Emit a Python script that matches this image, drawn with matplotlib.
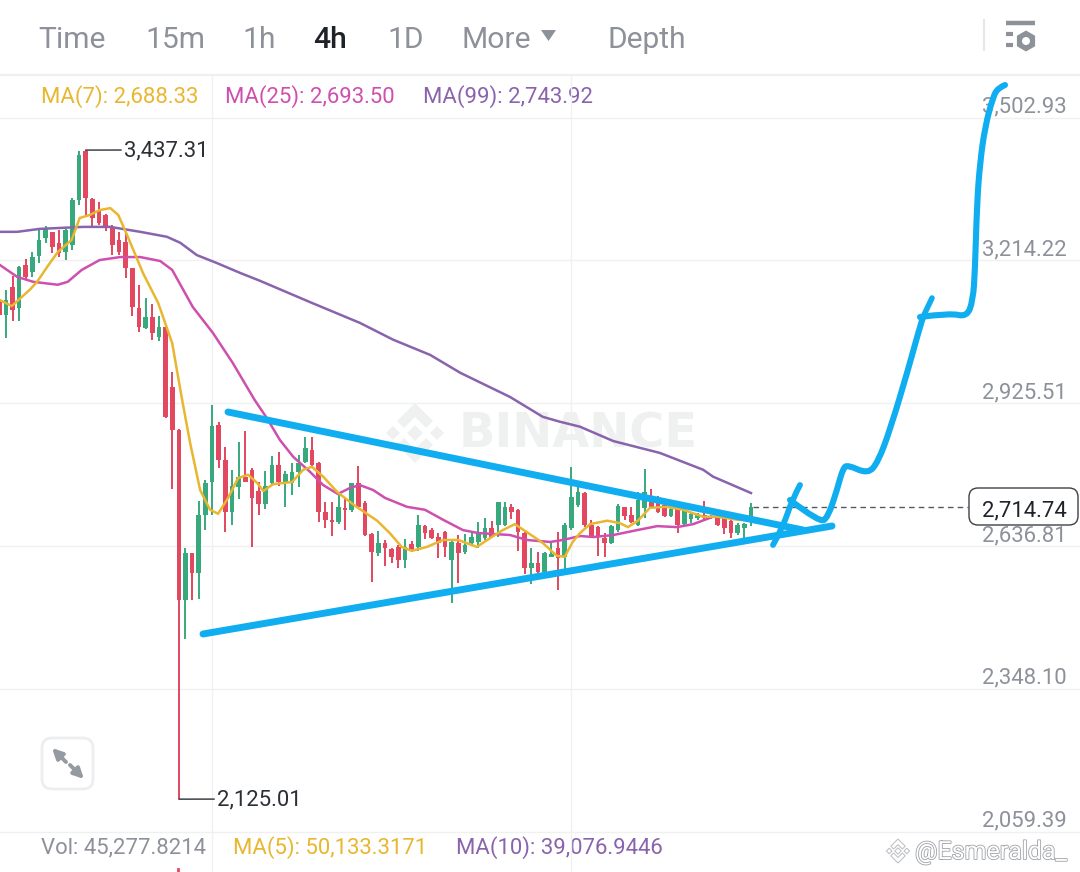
import matplotlib
matplotlib.use("Agg")
import matplotlib.pyplot as plt
import matplotlib.patheffects as pe
from matplotlib.path import Path
from matplotlib.patches import FancyBboxPatch, Polygon, Circle, RegularPolygon, PathPatch

plt.rcParams['font.family'] = ['Roboto', 'DejaVu Sans']

# ---------- data ----------
high = [3155,3155,3183,3203,3217,3231,3280,3284,3272,3276,
        3278,3341,3436,3437.31,3341,3333,3308,3286,3272,3270,
        3199,3165,3138,3126,3102,3084,2989,2874,2633,2623,
        2728,2770,2922,2888,2837,2791,2847,2870,2795,2766,
        2789,2819,2827,2789,2805,2821,2857,2857,2807,2726,
        2726,2740,2734,2764,2799,2728,2663,2667,2649,2633,
        2639,2651,2647,2700,2679,2673,2663,2667,2649,2659,
        2661,2663,2686,2694,2688,2726,2726,2722,2712,2665,
        2633,2625,2625,2643,2665,2683,2797,2756,2746,2690,
        2677,2663,2679,2722,2716,2716,2746,2793,2752,2738,
        2724,2714,2716,2712,2706,2704,2728,2700,2696,2696,
        2690,2683,2683,2724]
low = [3094,3058,3092,3092,3175,3181,3209,3250,3230,3221,
       3215,3235,3326,3302,3280,3286,3274,3225,3225,3179,
       3102,3070,3076,3054,3052,2896,2752,2125.01,2449,2528,
       2530,2669,2700,2795,2665,2679,2732,2766,2635,2700,
       2712,2760,2758,2716,2740,2756,2805,2797,2686,2673,
       2657,2681,2669,2706,2714,2657,2564,2617,2597,2603,
       2592,2592,2625,2627,2651,2651,2613,2615,2522,2562,
       2621,2639,2633,2649,2655,2655,2677,2692,2627,2580,
       2560,2582,2582,2615,2548,2590,2669,2716,2675,2653,
       2617,2615,2641,2665,2690,2683,2677,2694,2712,2704,
       2696,2696,2663,2679,2683,2690,2690,2692,2677,2661,
       2653,2659,2653,2677]
open_ = [3135,3104,3161,3118,3205,3191,3223,3260,3272,3250,
         3232,3246,3337,3436,3339,3316,3306,3282,3256,3252,
         3199,3118,3078,3100,3060,3080,2958,2871,2528,2623,
         2582,2700,2766,2882,2811,2706,2756,2776,2791,2748,
         2722,2764,2801,2766,2764,2787,2807,2831,2805,2706,
         2690,2686,2714,2710,2764,2724,2661,2623,2643,2631,
         2635,2609,2641,2635,2677,2669,2655,2665,2609,2643,
         2625,2643,2645,2653,2673,2679,2679,2716,2710,2663,
         2592,2603,2584,2615,2633,2615,2673,2720,2744,2679,
         2675,2653,2643,2669,2716,2700,2679,2714,2730,2724,
         2720,2698,2712,2681,2692,2694,2700,2694,2694,2694,
         2688,2663,2673,2686]
close = [3104,3135,3114,3201,3181,3221,3256,3280,3242,3230,
         3276,3337,3428,3341,3300,3290,3282,3246,3232,3199,
         3120,3080,3100,3068,3080,2898,2871,2528,2623,2582,
         2700,2764,2880,2811,2706,2758,2776,2766,2734,2722,
         2758,2801,2766,2783,2787,2805,2835,2801,2706,2690,
         2686,2716,2710,2764,2716,2659,2625,2643,2633,2615,
         2609,2635,2631,2679,2663,2653,2643,2635,2645,2623,
         2639,2655,2665,2673,2655,2726,2716,2706,2665,2592,
         2603,2584,2623,2621,2613,2679,2736,2746,2679,2655,
         2655,2643,2677,2718,2698,2686,2730,2746,2716,2706,
         2698,2712,2679,2708,2702,2702,2694,2698,2679,2673,
         2663,2679,2681,2714.74]

ma99_i = [0.1,2.7,6.1,12.6,16.7,21.2,25.2,27.2,29.7,32.7,36.2,39.2,46.7,54.2,59.2,
          64.8,69.3,76.8,81.7,84.3,87.3,92.3,99.3,105.8,107.3,113]
ma99_v = [3272,3272,3278,3282,3282,3272,3262,3250,3225,3209,3189,3173,3130,3088,3054,
          3023,2987,2938,2898,2888,2878,2849,2825,2791,2777,2743.92]
ma25_i = [0.1,2.7,5.1,8.8,10.3,12.4,15.1,18.2,21.2,24.2,26,29.1,32.1,35.1,38.4,40.2,
          42.2,44.2,46.7,48.7,50.9,52.7,54.2,56.2,58,61.3,64,66.7,69.7,72,76.8,79.3,
          82.8,84.7,87.3,89.3,92.3,95.9,98.9,101.9,104.3,107.3,113]
ma25_v = [3205,3181,3171,3165,3171,3195,3215,3221,3221,3213,3195,3120,3068,3007,2932,2896,
          2851,2817,2787,2760,2742,2754,2760,2750,2734,2716,2710,2690,2669,2663,2659,2649,
          2645,2649,2657,2655,2659,2669,2677,2675,2681,2696,2693.5]
ma7_i = [0.1,1.9,4.6,5.7,7.2,8.8,10.9,12.1,13.6,15.1,16.7,17.9,19.4,21.6,23.9,26,27.5,
         28.7,30.2,31.7,32.9,34.4,35.9,37.4,38.8,39.7,41.2,44,45.7,47,48.7,50.8,53.5,
         56.8,58.7,60.5,62,64.3,66.7,69,71.8,73.8,75.7,77.5,79.3,81.7,83.8,85,86.2,87.3,
         88.8,91.4,93.3,94.5,96,97.8,100.4,102.8,105.8,107.9,110.9,113]
ma7_v = [3134,3122,3155,3171,3201,3231,3256,3300,3306,3316,3320,3306,3260,3189,3128,3047,2932,
         2845,2750,2710,2702,2734,2774,2781,2764,2748,2762,2766,2791,2797,2777,2746,2718,
         2688,2663,2635,2627,2635,2649,2649,2635,2653,2669,2681,2665,2643,2617,2615,2645,2663,
         2681,2688,2683,2675,2688,2714,2716,2710,2696,2696,2690,2688.33]

price_ticks = [3502.93, 3214.22, 2925.51, 2636.81, 2348.10, 2059.39]
price_labels = ['3,502.93', '3,214.22', '2,925.51', '2,636.81', '2,348.10', '2,059.39']
time_grid = [32, 86]
last_price = 2714.74
tabs = ['Time', '15m', '1h', '4h', '1D', 'More', 'Depth']
ma_header = ['MA(7): 2,688.33', 'MA(25): 2,693.50', 'MA(99): 2,743.92']
vol_footer = ['Vol: 45,277.8214', 'MA(5): 50,133.3171', 'MA(10): 39,076.9446']

# hand-drawn pen strokes over the chart (screen position of the sketch)
pen_upper = ([228, 803], [412, 530])
pen_lower = ([203, 832], [634, 526])
pen_tick = ([773, 783, 792, 800], [545, 527, 500, 485])
pen_path = ([790, 820, 828, 837, 843, 848, 868, 878, 890, 908, 917, 923],
            [500, 523, 517, 490, 468, 465, 474, 462, 430, 370, 337, 317])
pen_stub = ([923, 932], [317, 298])
pen_rise = ([920, 950, 967, 973, 975, 977, 980, 985, 993, 998, 1005],
            [317, 313, 317, 300, 270, 203, 163, 127, 97, 88, 85])

# ---------- colours ----------
RED, GREEN = '#E2485F', '#37A97C'
YEL, MAG, PUR = '#E9B62F', '#CF4FAE', '#8A63AD'
BLUE = '#10AEF0'
GREY, GRID = '#8D9199', '#F0F0F0'
TXT = 15.9

W, H = 1080, 872
fig = plt.figure(figsize=(W/100, H/100), dpi=100, facecolor='white')

# background layer: screen furniture
bg = fig.add_axes([0, 0, 1, 1], zorder=0)
bg.set_xlim(0, W); bg.set_ylim(H, 0); bg.axis('off')

def logo(axis, cx, cy, r, fc, ec='none', lw=0):
    k = r / 30
    shapes = [
        [(0,-30),(18,-12),(11,-5),(0,-16),(-11,-5),(-18,-12)],
        [(0,30),(18,12),(11,5),(0,16),(-11,5),(-18,12)],
        [(0,-8),(8,0),(0,8),(-8,0)],
        [(22,-7),(29,0),(22,7),(15,0)],
        [(-22,-7),(-29,0),(-22,7),(-15,0)],
    ]
    for s in shapes:
        axis.add_patch(Polygon([(cx+a*k, cy+b*k) for a, b in s], closed=True, fc=fc, ec=ec, lw=lw))

logo(bg, 415, 433, 30, '#EFF0F0')
bg.text(459, 434, 'BINANCE', family='DejaVu Sans', weight='bold', fontsize=34.5,
        color='#EFF0F0', ha='left', va='center')

tab_x = [38, 145, 242, 313, 387, 462, 608]
for t, x in zip(tabs, tab_x):
    active = t == '4h'
    bg.text(x, 40, t, fontsize=21.6, color='#1E2329' if active else GREY,
            weight='medium' if active else 'normal', ha='left', va='center')
bg.add_patch(Polygon([(541, 30), (556, 30), (548.5, 41)], closed=True, fc=GREY, ec='none'))
bg.plot([983.5, 983.5], [20, 50], color='#E6E7E9', lw=1.5)
bg.plot([1006, 1035], [23, 23], color=GREY, lw=3.2, solid_capstyle='butt')
bg.plot([1006, 1013], [34, 34], color=GREY, lw=3, solid_capstyle='butt')
bg.plot([1006, 1013], [45, 45], color=GREY, lw=3, solid_capstyle='butt')
bg.add_patch(RegularPolygon((1026, 41), 6, radius=10.5, fc=GREY, ec='none'))
bg.add_patch(Circle((1026, 41), 4, fc='white', ec='none'))

for s, x, c in zip(ma_header, [41, 225, 423], [YEL, MAG, PUR]):
    bg.text(x, 97, s, fontsize=TXT, color=c, ha='left', va='center')
for s, x, c in zip(vol_footer, [41, 233, 456], [GREY, YEL, PUR]):
    bg.text(x, 848, s, fontsize=TXT, color=c, ha='left', va='center')

bg.plot([0, W], [75, 75], color='#EFEFEF', lw=1.6)
bg.add_patch(FancyBboxPatch((42, 738), 51, 51, boxstyle='round,pad=0,rounding_size=10',
                            fc='white', ec='#EDEEEF', lw=2))
bg.annotate('', xy=(52, 748), xytext=(66, 762),
            arrowprops=dict(arrowstyle='-|>', color='#959AA2', lw=2.8, mutation_scale=15,
                            shrinkA=0, shrinkB=0))
bg.annotate('', xy=(84, 779), xytext=(70, 765),
            arrowprops=dict(arrowstyle='-|>', color='#959AA2', lw=2.8, mutation_scale=15,
                            shrinkA=0, shrinkB=0))
bg.plot([178, 178], [869, 872], color=RED, lw=2)

# main chart: candle index against price
ax = fig.add_axes([0, 0, 1, (H - 75) / H], zorder=1)
ax.patch.set_visible(False)
ax.set_xlim(0.12, 162.45)
ax.set_ylim(1977.7, 3589.1)
for sp in ax.spines.values():
    sp.set_visible(False)
ax.set_xticks(time_grid)
ax.set_xticklabels(['', ''])
ax.set_yticks(price_ticks)
ax.set_yticklabels(price_labels)
ax.yaxis.tick_right()
ax.tick_params(axis='x', length=0)
ax.tick_params(axis='y', length=0, pad=-9.4, labelsize=TXT, labelcolor=GREY)
for lab in ax.get_yticklabels():
    lab.set_ha('right')
    lab.set_va('bottom')
ax.grid(True, color=GRID, lw=1)
ax.set_axisbelow(True)

idx = list(range(len(close)))
cols = [GREEN if c >= o else RED for o, c in zip(open_, close)]
ax.vlines(idx, low, high, colors=cols, lw=1.4, zorder=3)
ax.bar(idx, [abs(c - o) for o, c in zip(open_, close)],
       bottom=[min(o, c) for o, c in zip(open_, close)],
       width=0.7, color=cols, lw=0, zorder=3)
ax.plot(ma99_i, ma99_v, color=PUR, lw=1.8, zorder=4, solid_joinstyle='round')
ax.plot(ma25_i, ma25_v, color=MAG, lw=1.8, zorder=4, solid_joinstyle='round')
ax.plot(ma7_i, ma7_v, color=YEL, lw=1.8, zorder=5, solid_joinstyle='round')

ax.hlines(last_price, 113.3, 145.6, color='#555A60', lw=1, linestyles=(0, (4, 3)), zorder=2)

ax.annotate('3,437.31', xy=(13, 3437.31), xytext=(124 - 85.7, -1), textcoords='offset pixels',
            fontsize=TXT, color='#2B2F36', ha='left', va='center',
            arrowprops=dict(arrowstyle='-', color='#2B2F36', lw=1, shrinkA=0, shrinkB=0,
                            relpos=(0, 0.55)))
ax.annotate('2,125.01', xy=(27, 2125.01), xytext=(217 - 178.8, -1), textcoords='offset pixels',
            fontsize=TXT, color='#2B2F36', ha='left', va='center',
            arrowprops=dict(arrowstyle='-', color='#2B2F36', lw=1, shrinkA=0, shrinkB=0,
                            relpos=(0, 0.55)))

# top layer: pen sketch, price tag, watermark
ov = fig.add_axes([0, 0, 1, 1], zorder=2)
ov.patch.set_visible(False)
ov.set_xlim(0, W); ov.set_ylim(H, 0); ov.axis('off')

def pen(xs, ys, lw):
    """Draw a sketch stroke as a smooth curve through its reading points."""
    pts = list(zip(xs, ys))
    verts, codes = [pts[0]], [Path.MOVETO]
    for p, q in zip(pts[1:-1], pts[2:-1]):
        verts += [p, ((p[0] + q[0]) / 2, (p[1] + q[1]) / 2)]
        codes += [Path.CURVE3, Path.CURVE3]
    if len(pts) > 2:
        verts += [pts[-2], pts[-1]]
        codes += [Path.CURVE3, Path.CURVE3]
    else:
        verts.append(pts[-1]); codes.append(Path.LINETO)
    ov.add_patch(PathPatch(Path(verts, codes), fc='none', ec=BLUE, lw=lw,
                           capstyle='round', joinstyle='round'))

for (xs, ys), lw in [(pen_upper, 5), (pen_lower, 5), (pen_tick, 4.2), (pen_path, 4.4),
                     (pen_stub, 4), (pen_rise, 4.4)]:
    pen(xs, ys, lw)

ov.add_patch(FancyBboxPatch((969, 488), 109, 37, boxstyle='round,pad=0,rounding_size=9',
                            fc='white', ec='#3C4046', lw=1))
ov.text(1067, 511, '2,714.74', fontsize=TXT, color='#1E2329', ha='right', va='center')

logo(ov, 898, 851, 12, 'white', '#B8BBC0', 0.7)
ov.text(915, 852, '@Esmeralda_', fontsize=18, color='white', ha='left', va='center',
        path_effects=[pe.withStroke(linewidth=1.2, foreground='#9EA2A8')])

fig.savefig('out.png', dpi=100, facecolor='white')
